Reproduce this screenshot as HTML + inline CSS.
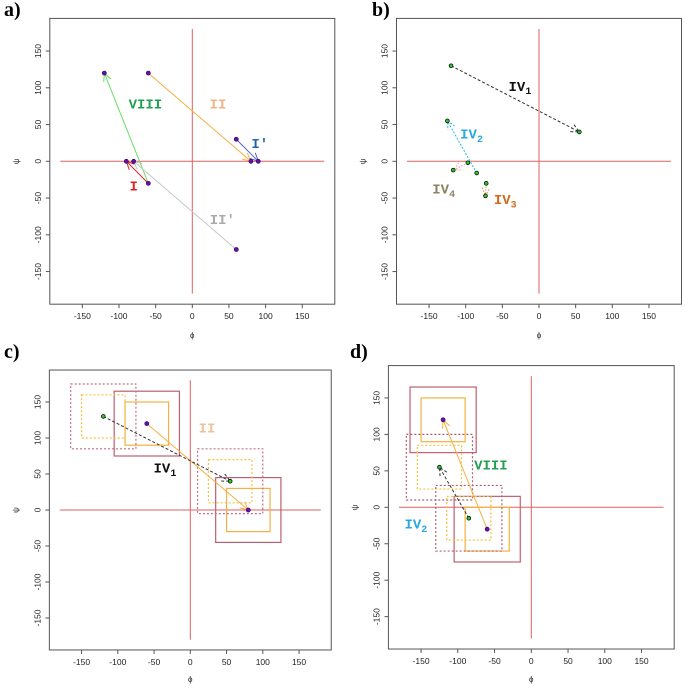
<!DOCTYPE html>
<html><head><meta charset="utf-8"><style>
html,body{margin:0;padding:0;background:#fff;}
svg{display:block;font-family:"Liberation Sans",sans-serif;}
</style></head><body>
<svg id="s" width="685" height="689" viewBox="0 0 685 689" xmlns="http://www.w3.org/2000/svg"></svg>
<script>
const ticks=[-150,-100,-50,0,50,100,150];
const tickLabels=["-150","-100","-50","0","50","100","150"];
// panel a
const aPoints=[[-120,120],[-60,120],[60,30],[80,0],[90,0],[-90,0],[-80,0],[-60,-30],[60,-120]];
const aArrows=[[-60,-30,-120,120,"#66e066","",'viii'],[-60,120,80,0,"#f5b041","",'ii'],[60,30,90,0,"#5566cc","",'i-prime'],[-60,-30,-90,0,"#dd2222","",'i'],[60,-120,-80,0,"#c8c8c8","",'ii-prime']];
const aLabels=[["VIII",-64,77,"#22a050"],["II",35,77,"#f4b183"],["I\u2032",92,23,"#2266aa"],["I",-80,-35,"#dd2222"],["II\u2032",41,-80,"#aaaaaa"]];
// panel b
const bPoints=[[-120,130],[55,40],[-125,55],[-97,-2],[-117,-12],[-85,-16],[-72,-30],[-73,-47]];
const bArrows=[[-120,130,55,40,"#333","3,2",'iv1'],[-85,-16,-125,55,"#29b6e6","2,1.5",'iv2'],[-97,-2,-117,-12,"#e8a090","1.5,1.5",'iv4'],[-72,-30,-73,-47,"#e09060","1.5,1.5",'iv3']];
const bLabels=[["IV","1",-26,101,"#111"],["IV","2",-92,36,"#29a8e0"],["IV","4",-130,-39,"#8b8060"],["IV","3",-46,-53,"#d2691e"]];
// panel c
const cBoxes=[[-105,-15,75,165,"#b86070",""],[-90,-30,90,150,"#f5b041",""],[35,125,-45,45,"#b86070",""],[50,110,-30,30,"#f5b041",""],[-165,-75,85,175,"#c07080","2,2"],[-150,-90,100,160,"#f5c041","2,2"],[10,100,-5,85,"#c07080","2,2"],[25,85,10,70,"#f5c041","2,2"]];
const cPurple=[[-60,120],[80,0]];
const cGreen=[[-120,130],[55,40]];
const cArrows=[[-60,120,80,0,"#f5b041","",'ii'],[-120,130,55,40,"#333","3,2",'iv1']];
const cLabels=[["II","",23,113,"#f4c09a"],["IV","1",-35,57,"#111"]];
// panel d
const dBoxes=[[-165,-75,75,165,"#c06070",""],[-150,-90,90,150,"#f5b041",""],[-105,-15,-75,15,"#c06070",""],[-90,-30,-60,0,"#f5b041",""],[-170,-80,10,100,"#b06070","2,2"],[-155,-95,25,85,"#f5c041","2,2"],[-130,-40,-60,30,"#b06070","2,2"],[-115,-55,-45,15,"#f5c041","2,2"]];
const dPurple=[[-120,120],[-60,-30]];
const dGreen=[[-125,55],[-85,-15]];
const dArrows=[[-60,-30,-120,120,"#f5b041","",'viii'],[-85,-15,-125,55,"#333","3,2",'iv2']];
const dLabels=[["VIII","",-55,57,"#22a050"],["IV","2",-157,-24,"#29a8e0"]];

const svg=document.getElementById('s');
const NS="http://www.w3.org/2000/svg";
function mk(tag,at,parent){const e=document.createElementNS(NS,tag);for(const k in at)e.setAttribute(k,at[k]);(parent||svg).appendChild(e);return e;}

function panel(id,letter,lx,ly,cx0,cy0,sx,sy,phiY){
  const g=mk('g',{});
  
  
  const X=v=>cx0+v*sx, Y=v=>cy0-v*sy;
  const L=X(-194.4),R=X(194.4),T=Y(194.4),B=Y(-194.4);
  const t=mk('text',{x:lx,y:ly,'font-family':'Liberation Serif,serif','font-weight':'bold','font-size':20,fill:'#000'},g);t.textContent=letter;
  
  
  const box=mk('rect',{x:L,y:T,width:R-L,height:B-T,fill:'none',stroke:'#555','stroke-width':1},g);
  
  
  ticks.forEach((v,i)=>{
    mk('line',{x1:X(v),x2:X(v),y1:B,y2:B+4,stroke:'#555'},g);
    const tx=mk('text',{x:X(v),y:B+15,'font-size':8.5,'text-anchor':'middle',fill:'#222'},g);tx.textContent=tickLabels[i];
    
    
    mk('line',{x1:L,x2:L-4,y1:Y(v),y2:Y(v),stroke:'#555'},g);
    const ty=mk('text',{x:0,y:0,'font-size':8.5,'text-anchor':'middle',fill:'#222',transform:`translate(${L-9},${Y(v)}) rotate(-90)`},g);ty.textContent=tickLabels[i];
    
    
  });
  const xt=mk('text',{x:X(0),y:phiY,'font-size':8,'text-anchor':'middle',fill:'#222'},g);xt.textContent='\u03d5';
  
  
  const yt=mk('text',{x:0,y:0,'font-size':8,'text-anchor':'middle',fill:'#222',transform:`translate(${L-31},${Y(0)}) rotate(-90)`},g);yt.textContent='\u03c8';
  
  
  const h=mk('line',{x1:X(-180),x2:X(180),y1:Y(0),y2:Y(0),stroke:'#e06060','stroke-width':1},g);
  
  
  const v=mk('line',{x1:X(0),x2:X(0),y1:Y(180),y2:Y(-180),stroke:'#e06060','stroke-width':1},g);
  
  
  return {g,X,Y};
}
function boxes(P,arr){arr.forEach(b=>{const r=mk('rect',{x:P.X(b[0]),y:P.Y(b[3]),width:P.X(b[1])-P.X(b[0]),height:P.Y(b[2])-P.Y(b[3]),fill:'none',stroke:b[4],'stroke-width':1.2,'stroke-dasharray':b[5]},P.g);
  
  });}
function arrows(P,arr){arr.forEach(a=>{
  const x1=P.X(a[0]),y1=P.Y(a[1]),x2=P.X(a[2]),y2=P.Y(a[3]);
  const ang=Math.atan2(y2-y1,x2-x1),hl=9,ha=0.45;
  const d=`M${x1},${y1}L${x2},${y2}M${x2-hl*Math.cos(ang-ha)},${y2-hl*Math.sin(ang-ha)}L${x2},${y2}L${x2-hl*Math.cos(ang+ha)},${y2-hl*Math.sin(ang+ha)}`;
  const p=mk('path',{d,fill:'none',stroke:a[4],'stroke-width':1,'stroke-dasharray':a[5]},P.g);
  
  });}
function points(P,arr,fill,stroke,r){arr.forEach(q=>{const c=mk('circle',{cx:P.X(q[0]),cy:P.Y(q[1]),r:r,fill,stroke,'stroke-width':0.8},P.g);
  
  });}
function labels(P,arr){arr.forEach(l=>{const t=mk('text',{x:P.X(l[2]),y:P.Y(l[3]),'font-family':'Liberation Mono,monospace','font-weight':'bold','font-size':14,fill:l[4],'text-anchor':'middle','dominant-baseline':'middle'},P.g);
  t.textContent=l[0];
  if(l[1]){const s=mk('tspan',{'font-size':10,dy:4},t);s.textContent=l[1];}
  
  });}

const A=panel('a','a)',4,16,192.3,161.3,0.733,0.735,338);
arrows(A,aArrows);points(A,aPoints,'#6a0dad','#3a1070',2);
labels(A,aLabels.map(l=>[l[0],"",l[1],l[2],l[3]]));
const Bp=panel('b','b)',372,16,539,161.3,0.733,0.735,338);
arrows(Bp,bArrows);points(Bp,bPoints,'#22cc22','#111',1.9);labels(Bp,bLabels);
const C=panel('c','c)',4,358,190.3,510,0.725,0.72,682);
boxes(C,cBoxes);arrows(C,cArrows);points(C,cPurple,'#6a0dad','#3a1070',2);points(C,cGreen,'#22cc22','#111',1.9);labels(C,cLabels);
const D=panel('d','d)',350,358,531.3,507.3,0.735,0.729,682);
boxes(D,dBoxes);arrows(D,dArrows);points(D,dPurple,'#6a0dad','#3a1070',2);points(D,dGreen,'#22cc22','#111',1.9);labels(D,dLabels);
</script>
</body></html>
